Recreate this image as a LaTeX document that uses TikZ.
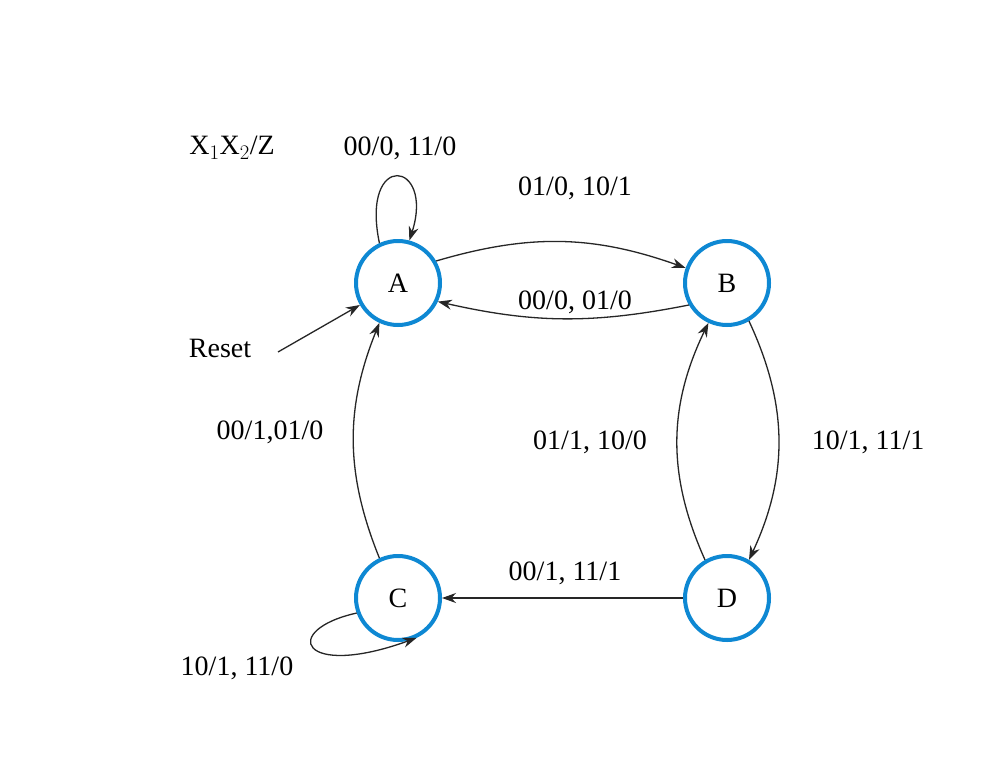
\documentclass[tikz,border=0pt]{standalone}
\usepackage{fontspec}
\setmainfont{Liberation Serif}
\usetikzlibrary{arrows.meta}
\begin{document}
\begin{tikzpicture}[x=1pt,y=-1pt,
  st/.style={circle,draw=cyan!70!blue,line width=4pt,minimum size=84pt,inner sep=0pt,font=\fontsize{28}{30}\selectfont},
  lb/.style={font=\fontsize{28}{30}\selectfont,inner sep=0pt},
  ed/.style={draw=black!85,line width=1.3pt,-{Stealth[length=14pt,width=10pt]}}]
\useasboundingbox[fill=white] (0,0) rectangle (984,760);
\node[st] (A) at (398,283) {A};
\node[st] (B) at (727,283) {B};
\node[st] (C) at (398,598) {C};
\node[st] (D) at (727,598) {D};
\path[ed] (A.30) to[bend left=18] (B.160);
\path[ed] (B.-150) to[bend left=12] (A.-25);
\path[ed] (B.-60) to[bend left=25] (D.60);
\path[ed] (D.120) to[bend left=25] (B.-115);
\path[ed] (D) -- (C);
\path[ed] (C.115) to[bend left=22] (A.-115);
\path[ed] (A.115) .. controls (360,150) and (435,160) .. (A.75);
\path[ed] (C.200) .. controls (280,630) and (300,680) .. (C.-65);
\coordinate (r) at (278,352);
\path[ed] (r) -- (A.-150);
\node[lb] at (232,148) {X$_1$X$_2$/Z};
\node[lb] at (400,148) {00/0, 11/0};
\node[lb] at (575,188) {01/0, 10/1};
\node[lb] at (575,302) {00/0, 01/0};
\node[lb] at (220,348) {Reset};
\node[lb] at (270,432) {00/1,01/0};
\node[lb] at (590,442) {01/1, 10/0};
\node[lb] at (868,442) {10/1, 11/1};
\node[lb] at (565,573) {00/1, 11/1};
\node[lb] at (237,668) {10/1, 11/0};
\end{tikzpicture}
\end{document}
